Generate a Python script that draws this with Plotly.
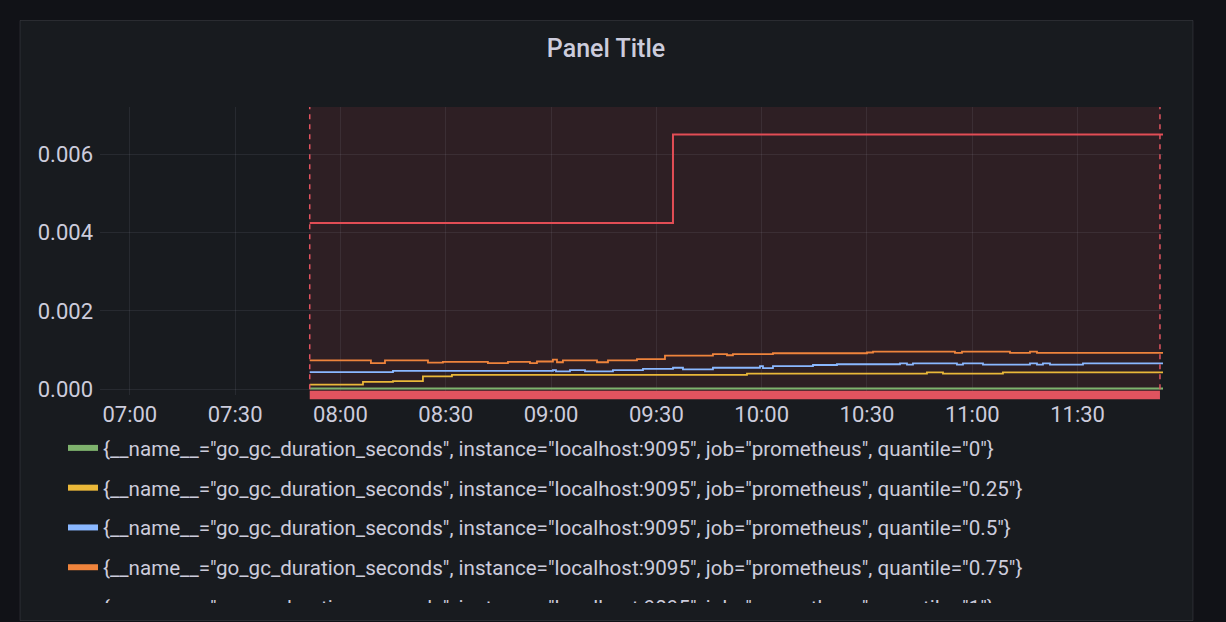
import plotly.graph_objects as go

DAY = "2023-05-01 "

# ---- data ----
series_names = [
    '{__name__="go_gc_duration_seconds", instance="localhost:9095", job="prometheus", quantile="0"}',
    '{__name__="go_gc_duration_seconds", instance="localhost:9095", job="prometheus", quantile="0.25"}',
    '{__name__="go_gc_duration_seconds", instance="localhost:9095", job="prometheus", quantile="0.5"}',
    '{__name__="go_gc_duration_seconds", instance="localhost:9095", job="prometheus", quantile="0.75"}',
    '{__name__="go_gc_duration_seconds", instance="localhost:9095", job="prometheus", quantile="1"}',
]
series_colors = ["#7EB26D", "#EAB839", "#8AB8FF", "#EF843C", "#E24D55"]

q0_times = ["07:51:15", "11:54:20"]
q0_vals = [0.00002, 0.00002]

q25_times = ["07:51:15", "08:06:25", "08:14:58", "08:23:30", "08:31:46", "09:55:49",
             "10:47:05", "10:51:39", "11:08:44", "11:54:20"]
q25_vals = [0.00012, 0.00019, 0.00021, 0.00033, 0.00037, 0.00040,
            0.00043, 0.00040, 0.00043, 0.00043]

q50_times = ["07:51:15", "08:14:58", "09:00:32", "09:01:24", "09:05:23", "09:09:40",
             "09:17:38", "09:26:11", "09:34:44", "09:37:35", "09:46:07", "09:59:31",
             "10:00:22", "10:03:13", "10:14:37", "10:21:27", "10:39:24", "10:41:24",
             "10:43:06", "10:55:38", "10:57:21", "11:03:03", "11:16:26", "11:18:26",
             "11:20:08", "11:22:08", "11:31:32", "11:54:20"]
q50_vals = [0.00044, 0.00047, 0.00049, 0.00046, 0.00049, 0.00046,
            0.00049, 0.00052, 0.00055, 0.00051, 0.00055, 0.00059,
            0.00054, 0.00059, 0.00062, 0.00064, 0.00066, 0.00063,
            0.00066, 0.00063, 0.00066, 0.00063, 0.00066, 0.00063,
            0.00066, 0.00063, 0.00066, 0.00066]

q75_times = ["07:51:15", "08:08:41", "08:12:41", "08:24:56", "08:29:12", "08:42:01",
             "08:47:43", "08:53:59", "08:55:59", "09:00:32", "09:01:41", "09:03:23",
             "09:13:05", "09:16:13", "09:24:28", "09:32:27", "09:46:07", "09:50:07",
             "09:51:49", "10:03:13", "10:30:00", "10:31:43", "10:55:04", "10:57:04",
             "11:10:44", "11:16:26", "11:18:26", "11:54:20"]
q75_vals = [0.00074, 0.00067, 0.00074, 0.00068, 0.00070, 0.00067,
            0.00070, 0.00067, 0.00071, 0.00076, 0.00069, 0.00074,
            0.00069, 0.00074, 0.00077, 0.00086, 0.00090, 0.00087,
            0.00090, 0.00092, 0.00094, 0.00096, 0.00093, 0.00096,
            0.00093, 0.00096, 0.00093, 0.00093]

q100_times = ["07:51:15", "09:34:44", "11:54:20"]
q100_vals = [0.00425, 0.00651, 0.00651]

region_start = "07:51:15"
region_end = "11:53:28"

x_range = ["06:51:30", "11:54:20"]
y_ticks = [0.000, 0.002, 0.004, 0.006]
y_range = [-0.000146, 0.007211]

# ---- figure ----
W, H = 1226, 622
PL, PR, PT, PB = 100, 1163, 107, 395   # plot area in pixels
pw, ph = PR - PL, PB - PT

def px_x(p):
    return (p - PL) / pw

def px_y(p):
    return (PB - p) / ph

all_times = [q0_times, q25_times, q50_times, q75_times, q100_times]
all_vals = [q0_vals, q25_vals, q50_vals, q75_vals, q100_vals]
widths = [1.8, 1.8, 1.8, 1.8, 2.0]

fig = go.Figure()
for i in range(5):
    fig.add_trace(go.Scatter(
        x=[DAY + t for t in all_times[i]], y=all_vals[i],
        mode="lines", line=dict(color=series_colors[i], width=widths[i], shape="hv"),
        name=series_names[i], legendgroup="g%d" % i, showlegend=False,
        hoverinfo="skip",
    ))
for i in range(5):
    fig.add_trace(go.Scatter(
        x=[None], y=[None], mode="lines",
        line=dict(color=series_colors[i], width=6),
        name=series_names[i], legendgroup="g%d" % i, showlegend=True,
    ))

ann_color = "#E0535F"
shapes = [
    # panel
    dict(type="rect", xref="paper", yref="paper",
         x0=px_x(20), x1=px_x(1193), y0=px_y(620.5), y1=px_y(20.5),
         fillcolor="#181b1f", line=dict(color="rgba(204,204,220,0.12)", width=1),
         layer="below"),
    # annotation region fill
    dict(type="rect", xref="x", yref="paper",
         x0=DAY + region_start, x1=DAY + region_end, y0=0, y1=1,
         fillcolor="rgba(242,73,92,0.10)", line=dict(width=0), layer="below"),
    # dashed bounds
    dict(type="line", xref="x", yref="paper",
         x0=DAY + region_start, x1=DAY + region_start, y0=0.02, y1=1,
         line=dict(color=ann_color, width=1.5, dash="5px,5px"), layer="above"),
    dict(type="line", xref="x", yref="paper",
         x0=DAY + region_end, x1=DAY + region_end, y0=0.02, y1=1,
         line=dict(color=ann_color, width=1.5, dash="5px,5px"), layer="above"),
    # annotation bar
    dict(type="rect", xref="x", yref="paper",
         x0=DAY + region_start, x1=DAY + region_end,
         y0=px_y(399.3), y1=px_y(390.7),
         fillcolor=ann_color, line=dict(width=0), layer="above"),
]

grid = "rgba(204,204,220,0.09)"
fig.update_layout(
    width=W, height=H,
    margin=dict(l=PL, r=W - PR, t=PT, b=H - PB, pad=0, autoexpand=False),
    paper_bgcolor="#111217", plot_bgcolor="rgba(0,0,0,0)",
    font=dict(family="Roboto", color="#ccccdc", size=22),
    title=dict(text="Panel Title", x=606 / W, xref="container", xanchor="center",
               y=1 - 48 / H, yref="container", yanchor="middle",
               font=dict(family="Roboto", size=25, weight=500, color="#ccccdc")),
    xaxis=dict(type="date", range=[DAY + x_range[0], DAY + x_range[1]],
               tick0=DAY + "07:00", dtick=30 * 60 * 1000, tickformat="%H:%M",
               showgrid=True, gridcolor=grid, gridwidth=1, zeroline=False,
               showline=False, ticks="", ticklabelstandoff=4,
               tickfont=dict(size=22, color="#ccccdc")),
    yaxis=dict(range=y_range, tickvals=y_ticks, tickformat=".3f",
               showgrid=True, gridcolor=grid, gridwidth=1, zeroline=False,
               showline=False, ticks="", ticklabelstandoff=6,
               tickfont=dict(size=22, color="#ccccdc")),
    showlegend=True,
    legend=dict(xref="container", yref="container", x=63 / W, y=1 - 428 / H,
                xanchor="left", yanchor="top", orientation="v",
                bgcolor="rgba(0,0,0,0)", borderwidth=0,
                font=dict(family="Roboto", size=20.6, color="#ccccdc"),
                tracegroupgap=10, maxheight=175),
    shapes=shapes,
)

page_fix = """
document.body.style.margin = '0';
document.body.style.padding = '0';
document.body.style.background = '#111217';
document.body.style.overflow = 'hidden';
var gd = document.getElementById('{plot_id}');
function hideSb() {
  gd.querySelectorAll('.scrollbar').forEach(function (e) { e.style.opacity = 0; });
}
hideSb();
gd.on('plotly_afterplot', hideSb);
"""

fig.write_html("out.html", post_script=page_fix, config={"displayModeBar": False})
